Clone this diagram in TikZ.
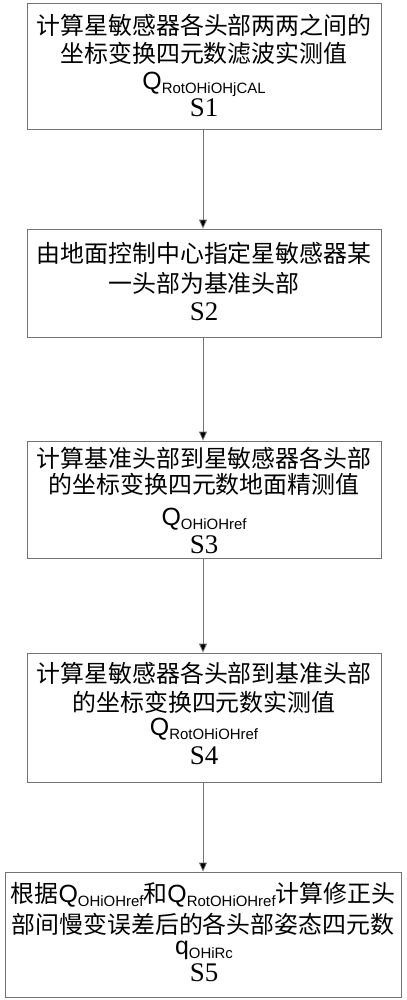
\documentclass[tikz,border=0pt]{standalone}
\usepackage{fontspec}
\setmainfont{Liberation Serif}
\newfontfamily\cjk{Noto Sans CJK SC}
\newfontfamily\arialf{Liberation Sans}
\usetikzlibrary{arrows.meta}
\newcommand{\Qsym}[2]{{\arialf\fontsize{25}{25}\selectfont #1\raisebox{-0.3ex}{\fontsize{15}{15}\selectfont #2}}}
\tikzset{
  stepbox/.style={draw=black!55, line width=0.8bp, fill=white, inner sep=0pt},
  cjktxt/.style={font=\cjk\fontsize{24}{28}\selectfont, inner sep=0pt, anchor=center},
  qtxt/.style={inner sep=0pt, anchor=center},
  labtxt/.style={font=\fontsize{27}{27}\selectfont, inner sep=0pt, anchor=center},
  flow/.style={draw=black!55, line width=0.8bp, -{Triangle[length=9bp,width=8bp,fill=black]}}
}
\begin{document}
\begin{tikzpicture}[x=1bp,y=-1bp]
\useasboundingbox[fill=white] (0,0) rectangle (406,1000);
% boxes
\node[stepbox, minimum width=354bp, minimum height=126bp] (b1) at (204,66) {};
\node[stepbox, minimum width=354bp, minimum height=108bp] (b2) at (204,283) {};
\node[stepbox, minimum width=354bp, minimum height=117bp] (b3) at (204,499.5) {};
\node[stepbox, minimum width=354bp, minimum height=129bp] (b4) at (204,717.5) {};
\node[stepbox, minimum width=396bp, minimum height=125bp] (b5) at (203,934.5) {};
% box 1
\node[cjktxt] (t1a) at (204,25) {计算星敏感器各头部两两之间的};
\node[cjktxt] (t1b) at (204,53) {坐标变换四元数滤波实测值};
\node[qtxt] (t1c) at (204,84) {\Qsym{Q}{RotOHiOHjCAL}};
\node[labtxt] (t1d) at (204,108) {S1};
% box 2
\node[cjktxt] (t2a) at (204,253) {由地面控制中心指定星敏感器某};
\node[cjktxt] (t2b) at (204,283) {一头部为基准头部};
\node[labtxt] (t2c) at (204,312) {S2};
% box 3
\node[cjktxt] (t3a) at (204,458) {计算基准头部到星敏感器各头部};
\node[cjktxt] (t3b) at (204,484) {的坐标变换四元数地面精测值};
\node[qtxt] (t3c) at (204,519) {\Qsym{Q}{OHiOHref}};
\node[labtxt] (t3d) at (204,545) {S3};
% box 4
\node[cjktxt] (t4a) at (204,673) {计算星敏感器各头部到基准头部};
\node[cjktxt] (t4b) at (204,702) {的坐标变换四元数实测值};
\node[qtxt] (t4c) at (204,729) {\Qsym{Q}{RotOHiOHref}};
\node[labtxt] (t4d) at (204,756) {S4};
% box 5
\node[cjktxt] (t5a) at (203,895) {根据\Qsym{Q}{OHiOHref}和\Qsym{Q}{RotOHiOHref}计算修正头};
\node[cjktxt] (t5b) at (203,924) {部间慢变误差后的各头部姿态四元数};
\node[qtxt] (t5c) at (204,950) {\Qsym{q}{OHiRc}};
\node[labtxt] (t5d) at (204,973) {S5};
% connectors
\draw[flow] (b1.south -| 203,0) -- (b2.north -| 203,0);
\draw[flow] (b2.south -| 203,0) -- (b3.north -| 203,0);
\draw[flow] (b3.south -| 203,0) -- (b4.north -| 203,0);
\draw[flow] (b4.south -| 203,0) -- (b5.north -| 203,0);
\end{tikzpicture}
\end{document}
